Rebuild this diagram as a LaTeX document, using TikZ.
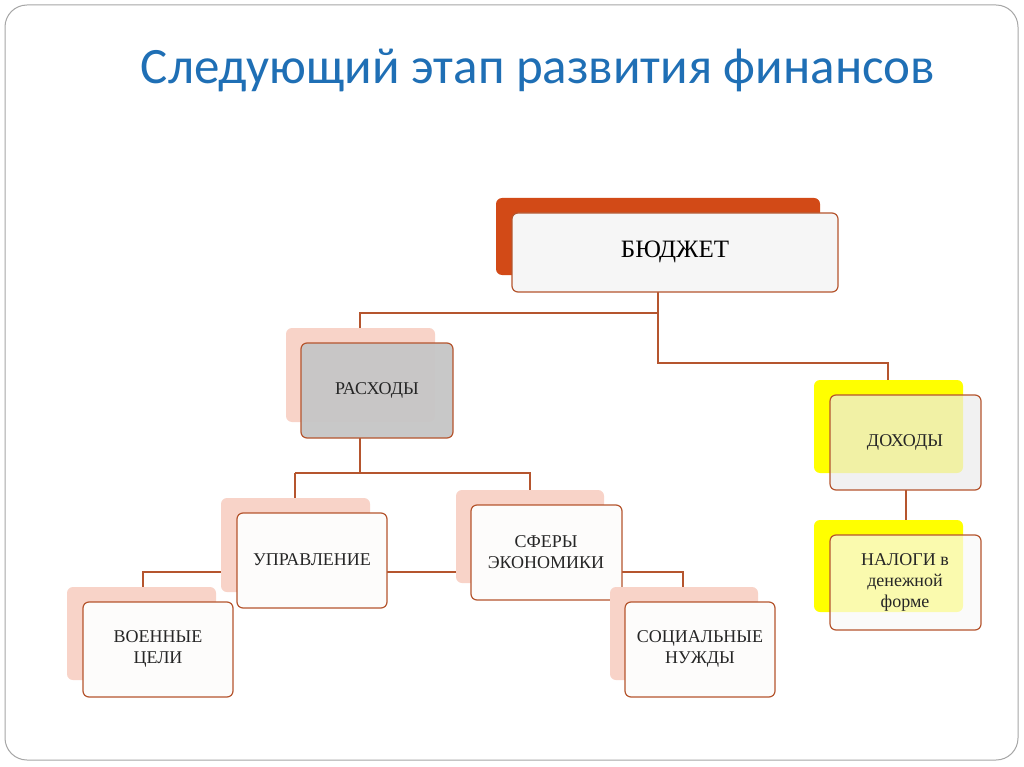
\documentclass[tikz,border=0pt]{standalone}
\usepackage{fontspec}
\setmainfont{Liberation Serif}
\newfontfamily\titlefont{Carlito}
\begin{document}
\begin{tikzpicture}[x=1pt,y=-1pt,
  line/.style={draw=linec,line width=1.4pt},
  front/.style={draw=linec,line width=1.2pt,rounded corners=6pt,fill=frontc},
  back/.style={rounded corners=6pt,fill=backc},
  lbl/.style={align=center,font=\fontsize{18}{21}\selectfont,text=black!85}]
\definecolor{linec}{HTML}{B5552E}
\definecolor{frontc}{HTML}{FDFCFB}
\definecolor{backc}{HTML}{F8D3C8}
\definecolor{budc}{HTML}{D24A17}
\definecolor{yel}{HTML}{FFFF00}
\definecolor{titc}{HTML}{1F6FB5}
\useasboundingbox (0,0) rectangle (1024,767);
\fill[white] (0,0) rectangle (1024,767);
\draw[gray!70,line width=1pt,rounded corners=22pt] (5,5) rectangle (1018,760);
\node[font=\titlefont\fontsize{51}{58}\selectfont,text=titc] (title) at (538,70) {Следующий этап развития финансов};
% connectors
\coordinate (b1) at (658,292); \coordinate (b2) at (658,313); \coordinate (b3) at (360,313);
\coordinate (b4) at (360,328); \coordinate (b5) at (658,363); \coordinate (b6) at (888,363); \coordinate (b7) at (888,380);
\draw[line] (b1)--(b5)--(b6)--(b7); \draw[line] (b2)--(b3)--(b4);
\coordinate (r1) at (360,438); \coordinate (r2) at (360,473); \coordinate (r3) at (295,473);\coordinate (r4) at (295,498);
\coordinate (r5) at (530,473); \coordinate (r6) at (530,490);
\draw[line] (r1)--(r2); \draw[line] (r3)--(r4); \draw[line] (r3)--(r5)--(r6);
\coordinate (u1) at (221,572); \coordinate (u2) at (143,572); \coordinate (u3) at (143,587);
\draw[line] (u1)--(u2)--(u3);
\coordinate (s1) at (387,572); \coordinate (s2) at (456,572); \draw[line] (s1)--(s2);
\coordinate (s3) at (622,572); \coordinate (s4) at (683,572); \coordinate (s5) at (683,587);
\draw[line] (s3)--(s4)--(s5);
\coordinate (d1) at (906,490); \coordinate (d2) at (906,535); \draw[line] (d1)--(d2);
% budget
\fill[budc,rounded corners=6pt] (496,198) rectangle (820,275);
\draw[front,fill=gray!7] (512,213) rectangle (838,292);
\node[font=\fontsize{25}{30}\selectfont] (bud) at (675,252) {БЮДЖЕТ};
% rashody
\fill[back] (286,328) rectangle (435,422);
\draw[front,fill=gray!45,fill opacity=0.95] (301,343) rectangle (453,438);
\node[lbl] (ras) at (377,390) {РАСХОДЫ};
% dohody
\fill[yel,rounded corners=6pt] (814,380) rectangle (963,473);
\draw[front,fill=gray!15,fill opacity=0.7,draw opacity=1] (830,395) rectangle (981,490);
\node[lbl] (doh) at (905,442) {ДОХОДЫ};
\fill[yel,rounded corners=6pt] (814,520) rectangle (963,612);
\draw[front,fill=gray!5,fill opacity=0.7] (830,535) rectangle (981,630);
\node[lbl] (nal) at (905,582) {НАЛОГИ в\\денежной\\форме};
% upr
\fill[back] (221,498) rectangle (370,592);
\draw[front] (237,513) rectangle (387,608);
\node[lbl] (upr) at (312,560) {УПРАВЛЕНИЕ};
\fill[back] (456,490) rectangle (604,583);
\draw[front] (471,505) rectangle (622,600);
\node[lbl] (sfe) at (546,552) {СФЕРЫ\\ЭКОНОМИКИ};
\fill[back] (67,587) rectangle (216,680);
\draw[front] (83,602) rectangle (233,697);
\node[lbl] (voe) at (158,649) {ВОЕННЫЕ\\ЦЕЛИ};
\fill[back] (610,587) rectangle (758,680);
\draw[front] (625,602) rectangle (775,697);
\node[lbl] (soc) at (700,649) {СОЦИАЛЬНЫЕ\\НУЖДЫ};
\end{tikzpicture}
\end{document}
